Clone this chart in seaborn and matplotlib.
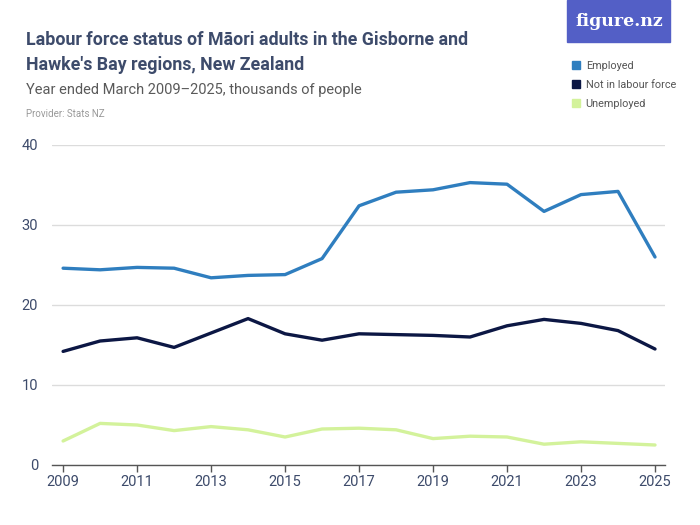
import pandas as pd
import matplotlib.pyplot as plt
import matplotlib.patches as mpatches
import seaborn as sns

years = list(range(2009, 2026))
employed = [24.6, 24.4, 24.7, 24.6, 23.4, 23.7, 23.8, 25.8, 32.4, 34.1, 34.4,
            35.3, 35.1, 31.7, 33.8, 34.2, 26.0]
not_in_lf = [14.2, 15.5, 15.9, 14.7, 16.5, 18.3, 16.4, 15.6, 16.4, 16.3, 16.2,
             16.0, 17.4, 18.2, 17.7, 16.8, 14.5]
unemployed = [3.0, 5.2, 5.0, 4.3, 4.8, 4.4, 3.5, 4.5, 4.6, 4.4, 3.3,
              3.6, 3.5, 2.6, 2.9, 2.7, 2.5]
series = ['Employed', 'Not in labour force', 'Unemployed']
colours = ['#2f7ebf', '#0c1744', '#d3f29b']

df = pd.DataFrame({'Year': years * 3,
                   'Value': employed + not_in_lf + unemployed,
                   'Status': [s for s in series for _ in years]})

sns.set_theme(style='white')
plt.rcParams['font.family'] = ['Roboto', 'DejaVu Sans']

text_col = '#3d4b6b'
fig = plt.figure(figsize=(7, 5.25), dpi=100)
ax = fig.add_axes([52 / 700, 60 / 525, 613 / 700, 320 / 525])

sns.lineplot(data=df, x='Year', y='Value', hue='Status', palette=colours,
             linewidth=2.4, ax=ax, legend=False)

ax.set_xlim(2008.7, 2025.27)
ax.set_ylim(0, 40)
ax.set_xticks(years[::2])
ax.set_yticks([0, 10, 20, 30, 40])
ax.set_xlabel('')
ax.set_ylabel('')
ax.grid(axis='y', color='#dcdcdc', linewidth=1)
for s in ['top', 'right', 'left']:
    ax.spines[s].set_visible(False)
ax.spines['bottom'].set_color('#555555')
ax.spines['bottom'].set_linewidth(1)
ax.tick_params(axis='x', length=5, width=1, color='#555555', colors=text_col,
               labelsize=10.5, pad=2, bottom=True)
ax.tick_params(axis='y', length=0, colors=text_col, labelsize=10.5, pad=10)

fig.text(26 / 700, 1 - 45 / 525, "Labour force status of Māori adults in the Gisborne and",
         fontsize=12.8, fontweight='semibold', color=text_col, va='baseline')
fig.text(26 / 700, 1 - 70 / 525, "Hawke's Bay regions, New Zealand",
         fontsize=12.8, fontweight='semibold', color=text_col, va='baseline')
fig.text(26 / 700, 1 - 94 / 525, 'Year ended March 2009–2025, thousands of people',
         fontsize=10.5, color='#5a5a5a', va='baseline')
fig.text(26 / 700, 1 - 117 / 525, 'Provider: Stats NZ',
         fontsize=7, color='#9a9a9a', va='baseline')

# figure.nz badge
fig.patches.append(mpatches.Rectangle((567 / 700, 1 - 42 / 525), 103 / 700, 42 / 525,
                                      transform=fig.transFigure, color='#535fc6'))
fig.text(619 / 700, 1 - 22 / 525, 'figure.nz', fontsize=12.5, fontweight='bold',
         family='DejaVu Serif', color='white', ha='center', va='center')

handles = [mpatches.Patch(color=c, label=s) for c, s in zip(colours, series)]
leg = fig.legend(handles=handles, loc='upper left', bbox_to_anchor=(564 / 700, 1 - 53 / 525),
                 frameon=False, fontsize=7.8, handlelength=0.75, handleheight=0.75,
                 handletextpad=0.55, labelspacing=0.85, borderpad=0.2)
for t in leg.get_texts():
    t.set_color('#555555')

fig.savefig('out.png', dpi=100)
